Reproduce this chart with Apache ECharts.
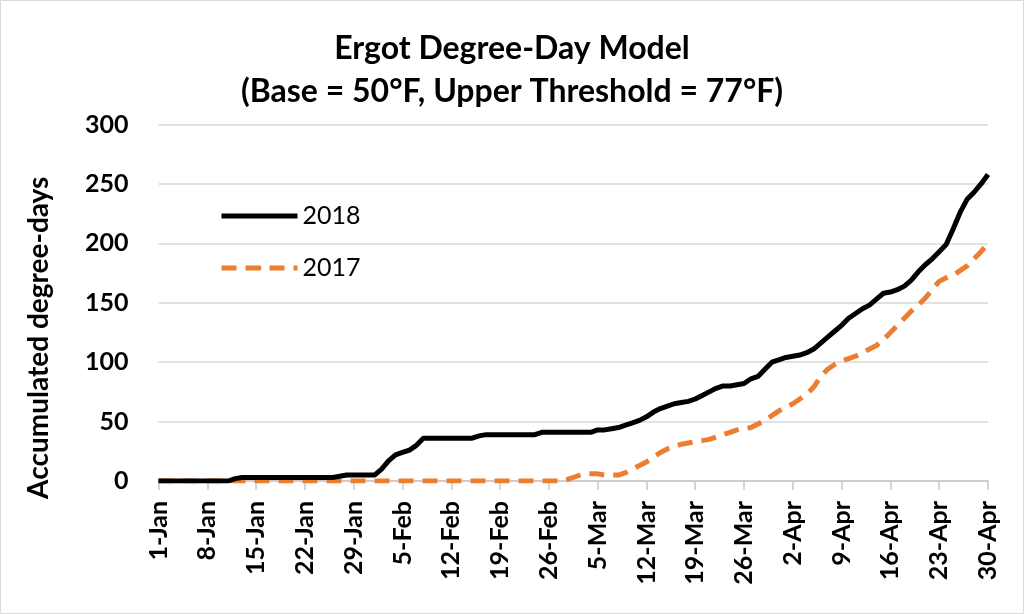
<!DOCTYPE html>
<html>
<head>
<meta charset="utf-8">
<script src="https://cdn.jsdelivr.net/npm/echarts@6/dist/echarts.min.js"></script>
<style>
html,body{margin:0;padding:0;background:#fff;}
#c{width:1024px;height:614px;}
</style>
</head>
<body>
<div id="c"></div>
<script>
// Category labels: daily dates 1-Jan .. 30-Apr
const months = ['Jan','Feb','Mar','Apr'];
const monthDays = [31,28,31,30];
const categories = [];
months.forEach((m,i)=>{ for(let d=1; d<=monthDays[i]; d++) categories.push(d+'-'+m); });

const yTicks = [0,50,100,150,200,250,300];

// Accumulated degree-days, 2018 (one value per day)
const series2018 = [
 0,0,0,0,0,0,0,0,0,0,          // 1-10 Jan
 0,2,3,3,3,3,3,3,3,3,          // 11-20 Jan
 3,3,3,3,3,3,4,5,5,5,          // 21-30 Jan
 5,5,10,17,22,24,26,30,36,36,  // 31 Jan - 9 Feb
 36,36,36,36,36,36,38,39,39,39,// 10-19 Feb
 39,39,39,39,39,41,41,41,41,41,// 20 Feb - 1 Mar
 41,41,41,43,43,44,45,47,49,51,// 2-11 Mar
 54,58,61,63,65,66,67,69,72,75,// 12-21 Mar
 78,80,80,81,82,86,88,94,100,102, // 22-31 Mar
 104,105,106,108,111,116,121,126,131,137, // 1-10 Apr
 141,145,148,153,158,159,161,164,169,176, // 11-20 Apr
 182,187,193,199,212,226,237,243,250,258  // 21-30 Apr
];

// Accumulated degree-days, 2017
const series2017 = [
 0,0,0,0,0,0,0,0,0,0,
 0,0,0,0,0,0,0,0,0,0,
 0,0,0,0,0,0,0,0,0,0,
 0,0,0,0,0,0,0,0,0,0,
 0,0,0,0,0,0,0,0,0,0,
 0,0,0,0,0,0,0,0,0,2,
 4,6,6,6,5,5,5,7,10,13,
 16,20,24,27,29,31,32,33,34,35,
 37,39,41,43,44,45,48,51,55,59,
 62,65,69,73,79,88,94,98,101,103,
 105,108,111,114,119,125,131,137,143,148,
 154,161,168,171,173,177,181,187,193,200
];

const FONT = 'Lato';
const chart = echarts.init(document.getElementById('c'));
chart.setOption({
  backgroundColor:'#fff',
  animation:false,
  title:{
    text:'Ergot Degree-Day Model\n(Base = 50°F, Upper Threshold = 77°F)',
    left:'center', top:22,
    textStyle:{fontFamily:FONT,fontSize:32,fontWeight:'bold',color:'#000',lineHeight:43}
  },
  legend:{
    orient:'vertical', left:214, top:198, itemGap:26,
    itemWidth:76, itemHeight:5,
    lineStyle:{width:5},
    textStyle:{fontFamily:FONT,fontSize:25,color:'#000',lineHeight:26},
    data:['2018','2017']
  },
  grid:{left:158.5, right:36, top:124.5, bottom:133, containLabel:false},
  xAxis:{
    type:'category', data:categories, boundaryGap:false,
    axisLine:{lineStyle:{color:'#c8c8c8',width:1.5}},
    axisTick:{interval:6,length:9,lineStyle:{color:'#c8c8c8',width:1.5}},
    axisLabel:{interval:6,rotate:90,margin:20,fontFamily:FONT,fontSize:25,fontWeight:'bold',color:'#000'},
    splitLine:{show:false}
  },
  yAxis:{
    type:'value', min:yTicks[0], max:yTicks[yTicks.length-1], interval:50,
    name:'Accumulated degree-days', nameLocation:'middle', nameGap:105,
    nameTextStyle:{fontFamily:FONT,fontSize:28,fontWeight:'bold',color:'#000',lineHeight:30,padding:[0,70,0,0]},
    axisLine:{show:false}, axisTick:{show:false},
    axisLabel:{margin:30,fontFamily:FONT,fontSize:25,fontWeight:'bold',color:'#000'},
    splitLine:{lineStyle:{color:'#d9d9d9',width:1.5}}
  },
  series:[
    {name:'2018',type:'line',data:series2018,symbol:'none',z:3,
     lineStyle:{color:'#000',width:5}, itemStyle:{color:'#000'}},
    {name:'2017',type:'line',data:series2017,symbol:'none',z:2,
     lineStyle:{color:'#ed7d31',width:5,type:[15,9]}, itemStyle:{color:'#ed7d31'}}
  ],
  graphic:[{type:'rect',shape:{x:0.5,y:0.5,width:1023,height:613},
    style:{fill:null,stroke:'#d9d9d9',lineWidth:1},silent:true}]
});
</script>
</body>
</html>
